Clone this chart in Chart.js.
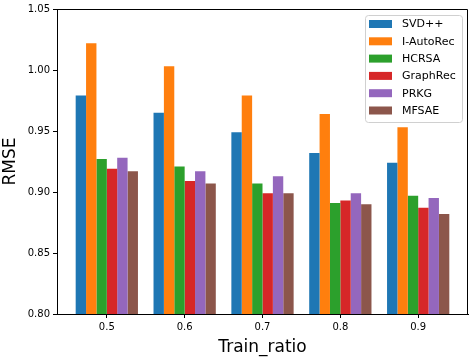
<!DOCTYPE html>
<html>
<head>
<meta charset="utf-8">
<script src="https://cdn.jsdelivr.net/npm/chart.js@4"></script>
<style>
  html, body { margin: 0; padding: 0; background: #fff; }
  #wrap { width: 474px; height: 358px; }
</style>
</head>
<body>
<div id="wrap"><canvas id="c" width="474" height="358"></canvas></div>
<script>
// RMSE per train ratio
const ratios = ["0.5", "0.6", "0.7", "0.8", "0.9"];
const methods = ["SVD++", "I-AutoRec", "HCRSA", "GraphRec", "PRKG", "MFSAE"];
const svdpp    = [0.979, 0.965, 0.949, 0.932, 0.924];
const iautorec = [1.022, 1.003, 0.979, 0.964, 0.953];
const hcrsa    = [0.927, 0.921, 0.907, 0.891, 0.897];
const graphrec = [0.919, 0.909, 0.899, 0.893, 0.887];
const prkg     = [0.928, 0.917, 0.913, 0.899, 0.895];
const mfsae    = [0.917, 0.907, 0.899, 0.890, 0.882];
const yTicks = [0.80, 0.85, 0.90, 0.95, 1.00, 1.05];

const colors = ["#1f77b4", "#ff7f0e", "#2ca02c", "#d62728", "#9467bd", "#8c564b"];
const series = [svdpp, iautorec, hcrsa, graphrec, prkg, mfsae];

const FONT = "'DejaVu Sans', sans-serif";

// spines on top/right + legend inside the axes
const frameAndLegend = {
  id: "frameAndLegend",
  afterDraw(chart) {
    const ctx = chart.ctx;
    const a = chart.chartArea;
    ctx.save();
    ctx.strokeStyle = "#000";
    ctx.lineWidth = 1;
    ctx.beginPath();
    ctx.moveTo(a.left, a.top + 0.5);
    ctx.lineTo(a.right - 0.5, a.top + 0.5);
    ctx.lineTo(a.right - 0.5, a.bottom);
    ctx.stroke();

    // legend box
    const bx = 365, by = 15, bw = 97, bh = 107;
    ctx.fillStyle = "rgba(255,255,255,0.8)";
    ctx.strokeStyle = "#d0d0d0";
    ctx.beginPath();
    ctx.roundRect(bx + 0.5, by + 0.5, bw, bh, 3);
    ctx.fill();
    ctx.stroke();

    ctx.font = "11px " + FONT;
    ctx.textBaseline = "middle";
    ctx.textAlign = "left";
    chart.data.datasets.forEach((ds, i) => {
      const cy = by + 9 + i * 17.3;
      ctx.fillStyle = ds.backgroundColor;
      ctx.fillRect(bx + 4, cy - 4, 23, 8);
      ctx.fillStyle = "#000";
      ctx.fillText(ds.label, bx + 37, cy + 0.5);
    });
    ctx.restore();
  }
};

new Chart(document.getElementById("c"), {
  type: "bar",
  data: {
    datasets: methods.map((m, i) => ({
      label: m,
      data: ratios.map((r, j) => ({ x: j, y: series[i][j] })),
      backgroundColor: colors[i],
      borderWidth: 0,
      categoryPercentage: 0.8,
      barPercentage: 1.0,
    })),
  },
  options: {
    responsive: false,
    animation: false,
    devicePixelRatio: 1,
    layout: { padding: { top: 9, right: 6, left: 0, bottom: 0 } },
    plugins: {
      legend: { display: false },
      tooltip: { enabled: false },
    },
    scales: {
      x: {
        type: "linear",
        offset: false,
        min: -0.64,
        max: 4.64,
        afterBuildTicks: (s) => { s.ticks = ratios.map((r, j) => ({ value: j })); },
        afterFit: (s) => { s.height = 44; },
        ticks: {
          callback: (v) => ratios[v],
          color: "#000",
          font: { family: FONT, size: 10 },
          padding: 3,
          maxRotation: 0,
        },
        grid: { offset: false, drawOnChartArea: false, drawTicks: true, tickLength: 4, color: "#000" },
        border: { display: true, color: "#000", width: 1 },
        title: {
          display: true,
          text: "Train_ratio",
          color: "#000",
          font: { family: FONT, size: 17 },
          padding: { top: 0, bottom: 0 },
        },
      },
      y: {
        min: 0.80,
        max: 1.05,
        afterBuildTicks: (s) => { s.ticks = yTicks.map(v => ({ value: v })); },
        afterFit: (s) => { s.width = 57; },
        ticks: {
          callback: (v) => v.toFixed(2),
          color: "#000",
          font: { family: FONT, size: 10 },
          padding: 3,
        },
        grid: { drawOnChartArea: false, drawTicks: true, tickLength: 4, color: "#000" },
        border: { display: true, color: "#000", width: 1 },
        title: {
          display: true,
          text: "RMSE",
          color: "#000",
          font: { family: FONT, size: 17 },
          padding: { top: 0, bottom: 0 },
        },
      },
    },
  },
  plugins: [frameAndLegend],
});
</script>
</body>
</html>
